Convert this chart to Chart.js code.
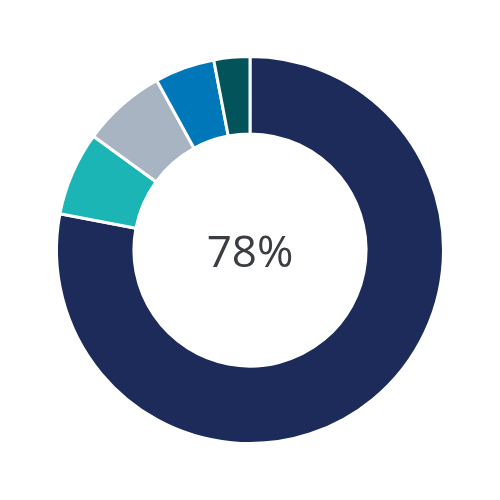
<!DOCTYPE html>
<html>
<head>
<meta charset="utf-8">
<script src="https://cdn.jsdelivr.net/npm/chart.js@4"></script>
<style>
  html, body { margin: 0; padding: 0; background: #fff; }
  #wrap { position: relative; width: 500px; height: 500px; }
  #label { position: absolute; left: 0; top: 0; width: 500px; height: 500px;
           display: flex; align-items: center; justify-content: center;
           font-family: "Open Sans", sans-serif; font-size: 44px; color: #3a3d42; pointer-events: none; }
</style>
</head>
<body>
<div id="wrap">
  <canvas id="donut" width="500" height="500"></canvas>
  <div id="label">78%</div>
</div>
<script>
var categories = ['A', 'B', 'C', 'D', 'E'];
var values = [78, 7, 7, 5, 3];
var colors = ['#1c2b59', '#1bb5b6', '#a9b4c3', '#0077b8', '#03545a'];

document.addEventListener('DOMContentLoaded', function () {
    var ctx = document.getElementById('donut');
    new Chart(ctx, {
        type: 'doughnut',
        data: {
            labels: categories,
            datasets: [{
                data: values,
                backgroundColor: colors,
                borderColor: '#ffffff',
                borderWidth: 3
            }]
        },
        options: {
            responsive: false,
            animation: false,
            cutout: '60%',
            layout: { padding: 55 },
            plugins: {
                legend: { display: false },
                tooltip: { enabled: false }
            }
        }
    });
});
</script>
</body>
</html>
